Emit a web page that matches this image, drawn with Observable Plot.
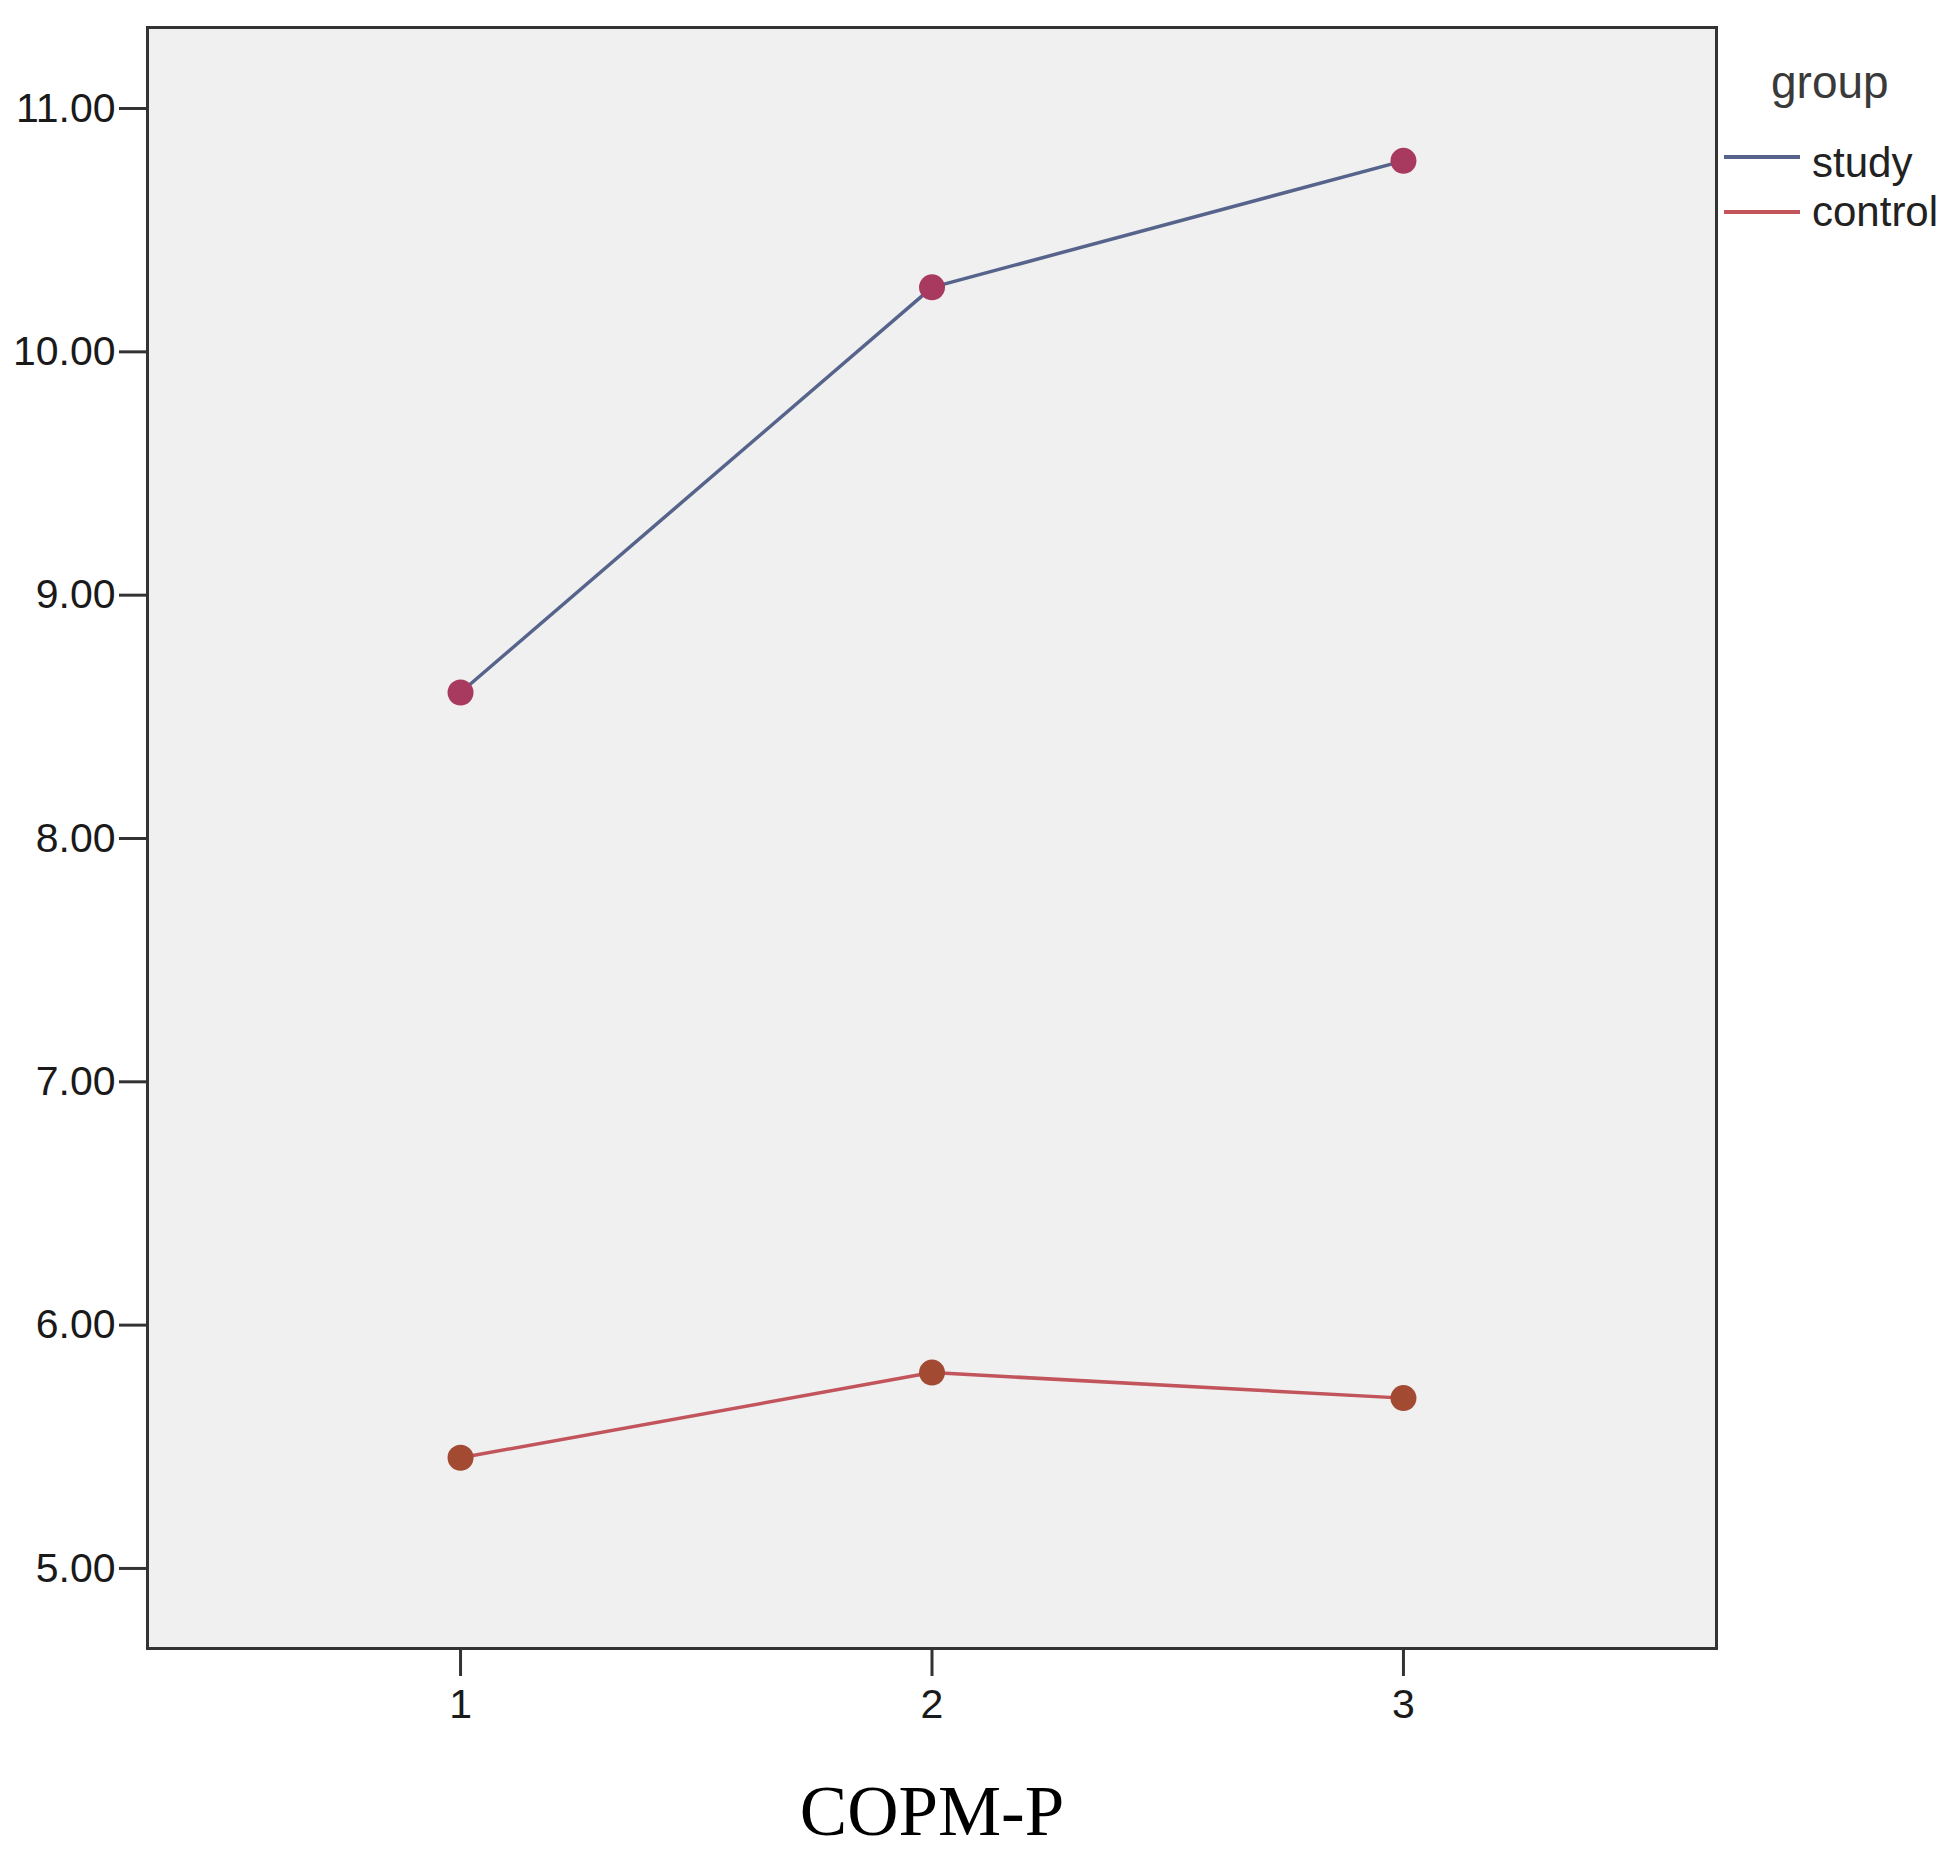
<!DOCTYPE html>
<html>
<head>
<meta charset="utf-8">
<script src="https://cdn.jsdelivr.net/npm/d3@7"></script>
<script src="https://cdn.jsdelivr.net/npm/@observablehq/plot@0.6"></script>
<style>
  html, body { margin: 0; padding: 0; background: #ffffff; }
  #page { position: relative; width: 1953px; height: 1855px; overflow: hidden; background: #ffffff; }
  #chart { position: absolute; left: 0; top: 0; }
  #legend { position: absolute; left: 0; top: 0; }
  #title { position: absolute; left: 0; width: 1864px; top: 1776px; text-align: center;
           font-family: "Liberation Serif", "Times New Roman", serif; font-size: 71px; line-height: 71px; color: #000; }
</style>
</head>
<body>
<div id="page">
  <div id="chart"></div>
  <svg id="legend" width="1953" height="300"></svg>
  <div id="title"></div>
</div>
<script>
// ---- data ----
const timepoints = [1, 2, 3];
const groups = ["study", "control"];
const studyValues = [8.60, 10.265, 10.785];
const controlValues = [5.455, 5.805, 5.70];
const yTicks = [5, 6, 7, 8, 9, 10, 11];
const xTicks = [1, 2, 3];
const legendTitle = "group";
const xTitle = "COPM-P";

const lineColors = { study: "#56648c", control: "#c2545c" };
const dotColors = { study: "#a8395f", control: "#a34a33" };

const studyData = timepoints.map((t, i) => ({ t, v: studyValues[i], group: "study" }));
const controlData = timepoints.map((t, i) => ({ t, v: controlValues[i], group: "control" }));

const chart = Plot.plot({
  width: 1953,
  height: 1740,
  marginLeft: 147,
  marginRight: 237,
  marginTop: 27,
  marginBottom: 92,
  style: { fontFamily: "'Liberation Sans', Arial, sans-serif", fontSize: "41px", color: "#1a1a1a", background: "transparent" },
  x: { domain: [0.336, 3.664], label: null },
  y: { domain: [4.671, 11.333], label: null },
  marks: [
    Plot.frame({ fill: "#f0f0f0", stroke: null }),
    Plot.line(studyData, { x: "t", y: "v", stroke: lineColors.study, strokeWidth: 3.5 }),
    Plot.line(controlData, { x: "t", y: "v", stroke: lineColors.control, strokeWidth: 3.5 }),
    Plot.dot(studyData, { x: "t", y: "v", r: 13, fill: dotColors.study, stroke: null }),
    Plot.dot(controlData, { x: "t", y: "v", r: 13, fill: dotColors.control, stroke: null }),
    Plot.frame({ stroke: "#333333", strokeWidth: 3 }),
    Plot.axisY({ ticks: yTicks, tickFormat: d => d.toFixed(2), tickSize: 28, tickPadding: 4, strokeWidth: 3, stroke: "#333", label: null, fill: "#1a1a1a" }),
    Plot.axisX({ ticks: xTicks, tickFormat: d => String(d), tickSize: 28, tickPadding: 12, strokeWidth: 3, stroke: "#333", label: null, fill: "#1a1a1a" })
  ]
});
document.getElementById("chart").appendChild(chart);

// ---- legend ----
const svg = d3.select("#legend");
svg.append("text").attr("x", 1771).attr("y", 98)
  .attr("font-family", "'Liberation Sans', Arial, sans-serif").attr("font-size", 46)
  .attr("fill", "#3a3a3a").text(legendTitle);
const legendRows = [{ g: "study", ly: 157, ty: 177 }, { g: "control", ly: 212, ty: 226 }];
legendRows.forEach(r => {
  svg.append("line").attr("x1", 1724).attr("x2", 1800).attr("y1", r.ly).attr("y2", r.ly)
    .attr("stroke", lineColors[r.g]).attr("stroke-width", 4);
  svg.append("text").attr("x", 1812).attr("y", r.ty)
    .attr("font-family", "'Liberation Sans', Arial, sans-serif").attr("font-size", 42)
    .attr("fill", "#222").text(r.g);
});

document.getElementById("title").textContent = xTitle;
</script>
</body>
</html>
